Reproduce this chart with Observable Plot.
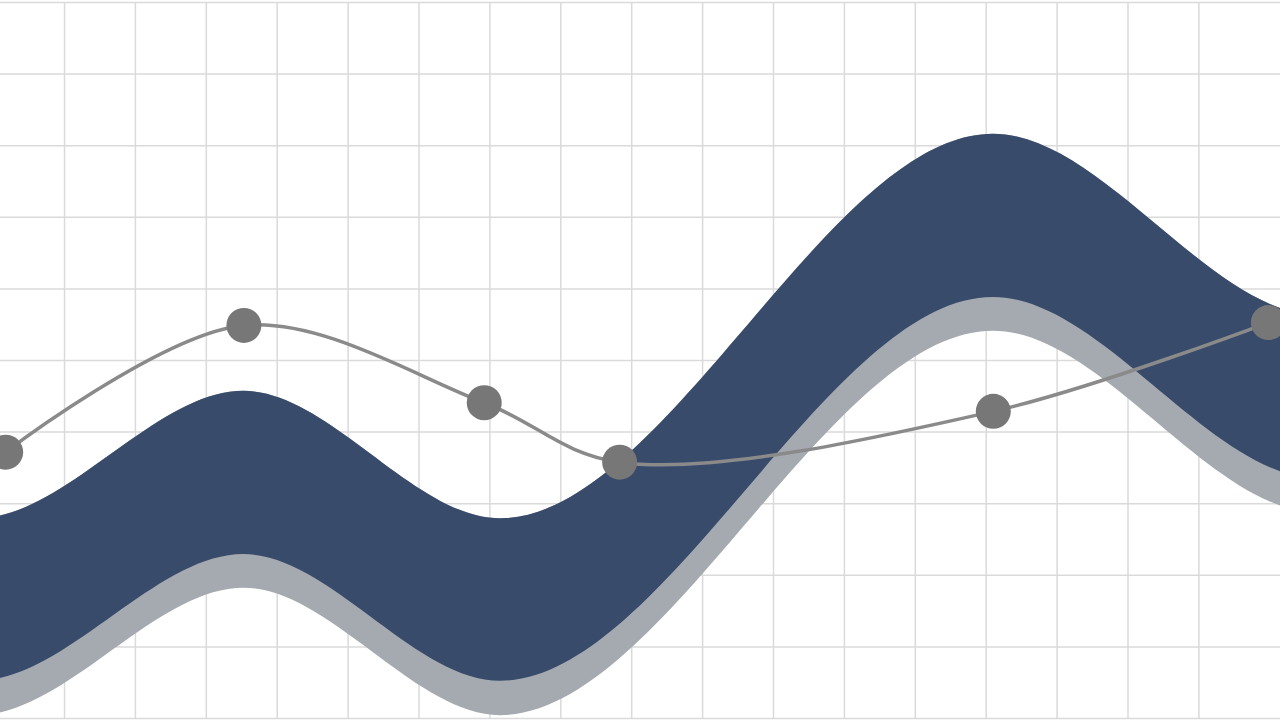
<!DOCTYPE html>
<html>
<head>
<meta charset="utf-8">
<script src="https://cdn.jsdelivr.net/npm/d3@7"></script>
<script src="https://cdn.jsdelivr.net/npm/@observablehq/plot@0.6"></script>
<style>
  html, body { margin: 0; padding: 0; background: #ffffff; overflow: hidden; }
  #chart svg { display: block; }
</style>
</head>
<body>
<div id="chart"></div>
<script>
// Grid positions (in grid units)
const gridX = [0, 1, 2, 3, 4, 5, 6, 7, 8, 9, 10, 11, 12, 13, 14, 15, 16];
const gridY = [0, 1, 2, 3, 4, 5, 6, 7, 8, 9, 10];

// Ribbon (band) series: turning points (the outer two lie beyond the frame)
const bandX        = [-4.98, -1.23, 2.53, 6.15, 13.10, 17.72, 22.37];
const bandTop      = [4.57, 2.79, 4.57, 2.79, 8.16, 5.62, 8.00];
const bandBottom   = [2.29, 0.52, 2.29, 0.52, 5.88, 3.34, 5.72];
const shadowBottom = [1.82, 0.04, 1.82, 0.04, 5.41, 2.86, 5.25];

// Line series with markers
const lineX = [-0.83, 2.53, 5.92, 7.83, 13.10, 16.98];
const lineY = [3.72, 5.49, 4.41, 3.58, 4.29, 5.53];

const band = bandX.map((x, i) => ({x, top: bandTop[i], bottom: bandBottom[i], shadow: shadowBottom[i]}));
const line = lineX.map((x, i) => ({x, y: lineY[i]}));

const chart = Plot.plot({
  width: 1280,
  height: 720,
  marginTop: 2,
  marginBottom: 2,
  marginLeft: 0,
  marginRight: 0,
  style: {background: "#ffffff", overflow: "hidden"},
  x: {domain: [-0.903, 17.151], axis: null},
  y: {domain: [0, 10], axis: null},
  marks: [
    Plot.ruleX(gridX, {stroke: "#dadada", strokeWidth: 1.5}),
    Plot.ruleY(gridY, {stroke: "#dadada", strokeWidth: 1.5}),
    Plot.areaY(band, {x: "x", y1: "shadow", y2: "top", curve: "monotone-x", fill: "#a5aab1", clip: true}),
    Plot.areaY(band, {x: "x", y1: "bottom", y2: "top", curve: "monotone-x", fill: "#384b6b", clip: true}),
    Plot.line(line, {x: "x", y: "y", curve: "catmull-rom", stroke: "#8a8a8a", strokeWidth: 3.5}),
    Plot.dot(line, {x: "x", y: "y", r: 17.5, fill: "#777777", stroke: "none"})
  ]
});
document.getElementById("chart").appendChild(chart);
</script>
</body>
</html>
